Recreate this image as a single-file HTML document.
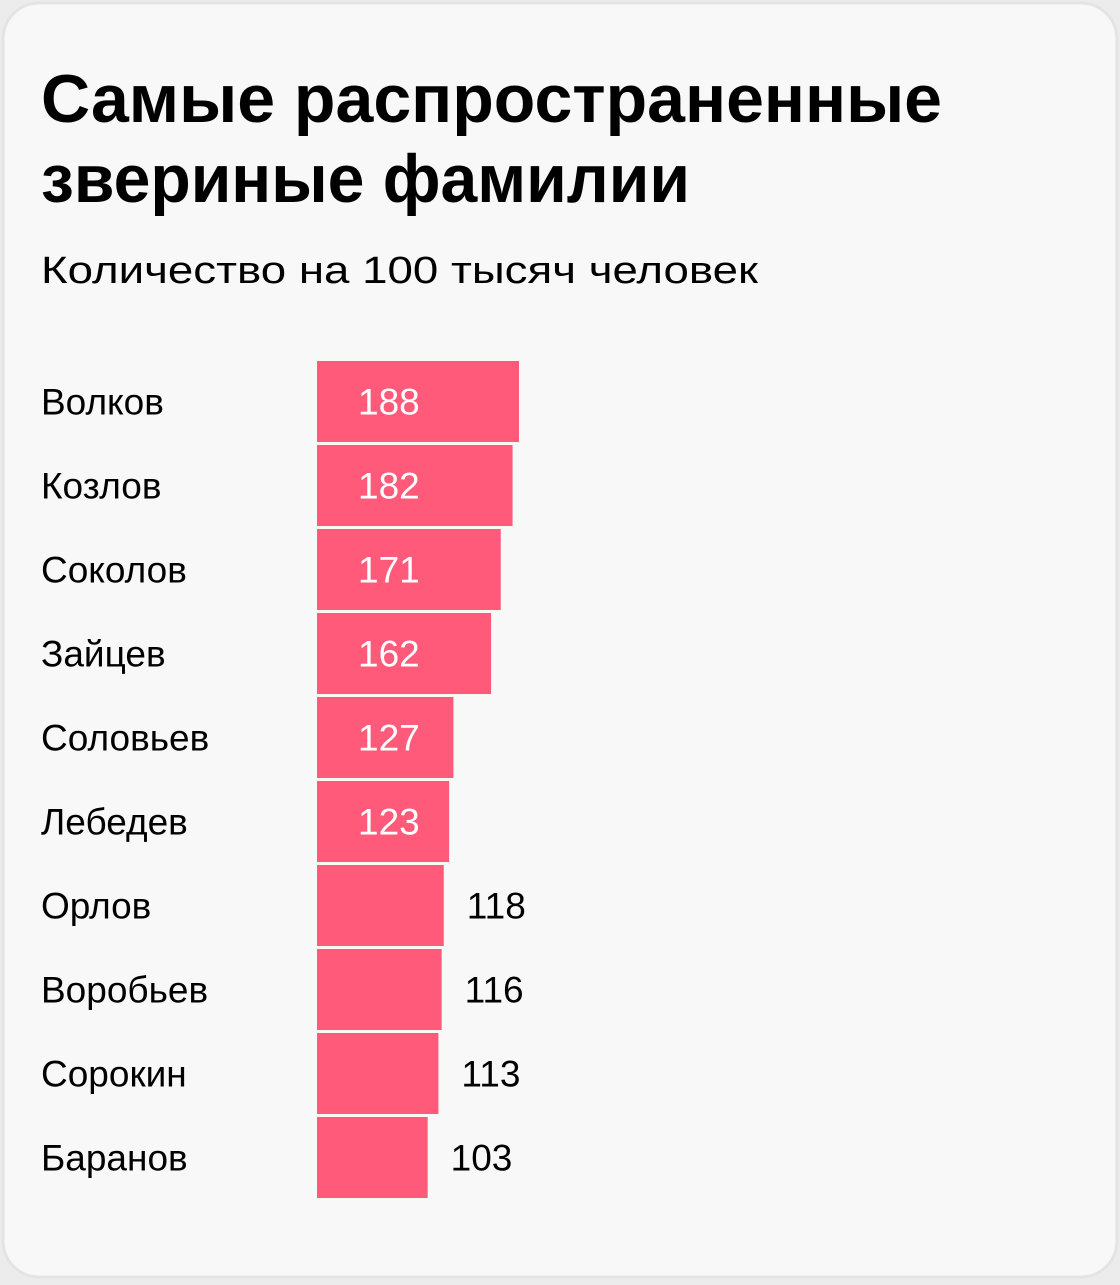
<!DOCTYPE html>
<html><head><meta charset="utf-8"><style>
html,body{margin:0;padding:0;background:#ececec;}
body{width:1120px;height:1280px;overflow:hidden;}
</style></head><body>
<svg width="1120" height="1280" xmlns="http://www.w3.org/2000/svg" font-family="Liberation Sans, sans-serif">
<rect x="3" y="3" width="1114" height="1274" rx="36" fill="#f8f8f8" stroke="#e4e4e4" stroke-width="3"/>
<text x="41" y="122" font-size="68" font-weight="bold" fill="#000" textLength="901" lengthAdjust="spacingAndGlyphs">Самые распространенные</text>
<text x="41" y="202" font-size="68" font-weight="bold" fill="#000" textLength="649" lengthAdjust="spacingAndGlyphs">звериные фамилии</text>
<text x="41" y="283" font-size="38" fill="#000" textLength="717" lengthAdjust="spacingAndGlyphs">Количество на 100 тысяч человек</text>
<g id="bars"></g>
</svg>
<script>
const names = ["Волков","Козлов","Соколов","Зайцев","Соловьев","Лебедев","Орлов","Воробьев","Сорокин","Баранов"];
const values = [188,182,171,162,127,123,118,116,113,103];
const x0 = 317, scale = 202/188, top0 = 361, pitch = 84, barH = 81;
const xScale = v => v*scale;
const yPos = i => top0 + i*pitch;
const ns = "http://www.w3.org/2000/svg";
const g = document.getElementById("bars");
names.forEach((n,i)=>{
  const y = yPos(i), w = xScale(values[i]);
  const lab = document.createElementNS(ns,"text");
  
  
  lab.setAttribute("x",41); lab.setAttribute("y",y+barH/2+13);
  lab.setAttribute("font-size","37"); lab.setAttribute("fill","#000");
  lab.textContent = n; g.appendChild(lab);
  const r = document.createElementNS(ns,"rect");
  
  
  r.setAttribute("x",x0); r.setAttribute("y",y); r.setAttribute("width",w); r.setAttribute("height",barH);
  r.setAttribute("fill","#ff5a7a"); g.appendChild(r);
  const t = document.createElementNS(ns,"text");
  
  
  const inside = w > 130;
  t.setAttribute("x", inside ? x0+41 : x0+w+23);
  t.setAttribute("y", y+barH/2+13);
  t.setAttribute("font-size","37");
  t.setAttribute("fill", inside ? "#fff" : "#000");
  t.textContent = values[i]; g.appendChild(t);
});
</script>
</body></html>
